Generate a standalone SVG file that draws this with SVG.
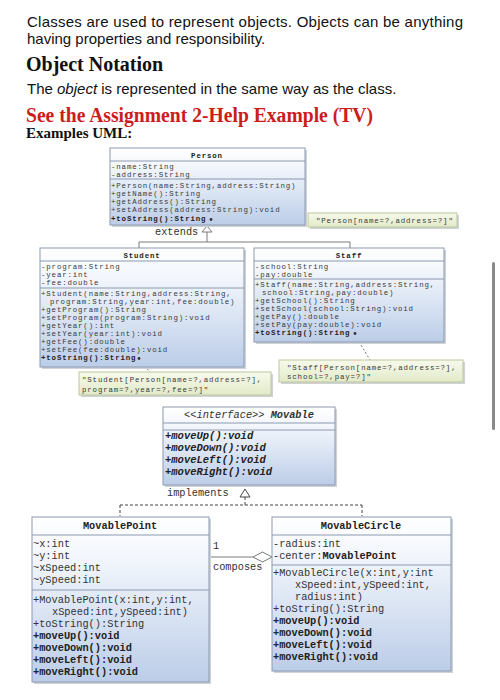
<svg xmlns="http://www.w3.org/2000/svg" width="500" height="700" viewBox="0 0 500 700">
<defs>
<linearGradient id="cls" x1="0" y1="0" x2="0" y2="1">
<stop offset="0" stop-color="#ffffff"/>
<stop offset="0.25" stop-color="#f2f6fc"/>
<stop offset="1" stop-color="#bccde8"/>
</linearGradient>
<linearGradient id="note" x1="0" y1="0" x2="0" y2="1">
<stop offset="0" stop-color="#f7faec"/>
<stop offset="1" stop-color="#e2eac8"/>
</linearGradient>
</defs>
<style>
.body{font-family:"Liberation Sans",Arial,sans-serif;font-size:15px;fill:#111}
.h1{font-family:"Liberation Serif","Times New Roman",serif;font-weight:bold;font-size:20px;fill:#111}
.red{font-family:"Liberation Serif","Times New Roman",serif;font-weight:bold;font-size:20px;fill:#cc1d1d}
.h3{font-family:"Liberation Serif","Times New Roman",serif;font-weight:bold;font-size:15px;fill:#111}
.box{fill:url(#cls);stroke:#8c9ab0;stroke-width:1}
.shadow{fill:#cfd3d8}
.sep{stroke:#8c9ab0;stroke-width:1}
.nbox{fill:url(#note);stroke:#bcc79e;stroke-width:1}
.s{font-family:"Liberation Mono","Courier New",monospace;font-size:7.4px;letter-spacing:0.86px;fill:#3a3a3a}
.sb{font-family:"Liberation Mono","Courier New",monospace;font-size:7.4px;letter-spacing:0.86px;font-weight:bold;fill:#222}
.l{font-family:"Liberation Mono","Courier New",monospace;font-size:10.3px;fill:#333}
.lb{font-family:"Liberation Mono","Courier New",monospace;font-size:10.3px;font-weight:bold;fill:#222}
.bi{font-family:"Liberation Mono","Courier New",monospace;font-size:10.5px;font-weight:bold;font-style:italic;fill:#222}
.ln{stroke:#7a7a7a;stroke-width:1;fill:none}
.dot{stroke:#7a7a7a;stroke-width:1;fill:none;stroke-dasharray:2 2}
.dash{stroke:#444;stroke-width:1;fill:none;stroke-dasharray:3 2}
</style>

<g id="intro">
<text class="body" x="27" y="27" textLength="436" lengthAdjust="spacing">Classes are used to represent objects. Objects can be anything</text>
<text class="body" x="27" y="44">having properties and responsibility.</text>
<text class="h1" x="26" y="71">Object Notation</text>
<text class="body" x="27" y="94">The <tspan font-style="italic">object</tspan> is represented in the same way as the class.</text>
<text class="red" x="26" y="122" textLength="347" lengthAdjust="spacingAndGlyphs">See the Assignment 2-Help Example (TV)</text>
<text class="h3" x="26" y="138">Examples UML:</text>
</g>

<g id="connectors">
<polygon points="207,226 202,232 212,232" fill="#fff" stroke="#7a7a7a"/>
<path class="ln" d="M207,232 V242 M139,242 H350 M139,242 V248 M350,242 V248"/>
<path class="dot" d="M212,220 H308"/>
<path class="dot" d="M139,360 L150,372"/>
<path class="dot" d="M355,335 L370,360"/>
<polygon points="245,489 240,497 250,497" fill="#fff" stroke="#444"/>
<path class="dash" d="M245,497 V505 M120,505 H362 M120,505 V516 M362,505 V516"/>
<path class="ln" d="M209,557 H253"/>
<polygon points="253,557 262.5,552 272,557 262.5,562" fill="#fff" stroke="#7a7a7a"/>
<text class="l" x="213" y="549">1</text>
<text class="l" x="213" y="570" font-size="9.8">composes</text>
<text class="l" x="155" y="235" font-size="9">extends</text>
<text class="l" x="167" y="496">implements</text>
</g>

<g id="Person">
<rect class="shadow" x="112" y="150" width="195" height="77"/>
<rect class="box" x="110" y="148" width="195" height="77"/>
<line class="sep" x1="110" y1="161" x2="305" y2="161"/>
<line class="sep" x1="110" y1="179" x2="305" y2="179"/>
<text class="sb" x="207" y="158" text-anchor="middle">Person</text>
<text class="s" x="111" y="169">-name:String</text>
<text class="s" x="111" y="177">-address:String</text>
<text class="s" x="111" y="188">+Person(name:String,address:String)</text>
<text class="s" x="111" y="196">+getName():String</text>
<text class="s" x="111" y="204">+getAddress():String</text>
<text class="s" x="111" y="212">+setAddress(address:String):void</text>
<text class="sb" x="111" y="221">+toString():String</text>
<circle cx="211" cy="219.5" r="1.4" fill="#333"/>
</g>

<g id="PersonNote">
<rect class="shadow" x="310" y="215" width="149" height="14"/>
<rect class="nbox" x="308" y="213" width="149" height="14"/>
<text class="s" x="316" y="223">"Person[name=?,address=?]"</text>
</g>

<g id="Student">
<rect class="shadow" x="42" y="250" width="204" height="119"/>
<rect class="box" x="40" y="248" width="204" height="119"/>
<line class="sep" x1="40" y1="261" x2="244" y2="261"/>
<line class="sep" x1="40" y1="288" x2="244" y2="288"/>
<text class="sb" x="142" y="258" text-anchor="middle">Student</text>
<text class="s" x="41" y="269">-program:String</text>
<text class="s" x="41" y="277">-year:int</text>
<text class="s" x="41" y="285">-fee:double</text>
<text class="s" x="41" y="296">+Student(name:String,address:String,</text>
<text class="s" x="50" y="304">program:String,year:int,fee:double)</text>
<text class="s" x="41" y="312">+getProgram():String</text>
<text class="s" x="41" y="320">+setProgram(program:String):void</text>
<text class="s" x="41" y="328">+getYear():int</text>
<text class="s" x="41" y="336">+setYear(year:int):void</text>
<text class="s" x="41" y="344">+getFee():double</text>
<text class="s" x="41" y="352">+setFee(fee:double):void</text>
<text class="sb" x="41" y="360">+toString():String</text>
<circle cx="139" cy="358.5" r="1.4" fill="#333"/>
</g>

<g id="StudentNote">
<rect class="shadow" x="81" y="374" width="192" height="23"/>
<rect class="nbox" x="79" y="372" width="192" height="23"/>
<text class="s" x="82" y="382">"Student[Person[name=?,address=?],</text>
<text class="s" x="82" y="392">program=?,year=?,fee=?]"</text>
</g>

<g id="Staff">
<rect class="shadow" x="256" y="250" width="190" height="94"/>
<rect class="box" x="254" y="248" width="190" height="94"/>
<line class="sep" x1="254" y1="261" x2="444" y2="261"/>
<line class="sep" x1="254" y1="279" x2="444" y2="279"/>
<text class="sb" x="349" y="258" text-anchor="middle">Staff</text>
<text class="s" x="255" y="269">-school:String</text>
<text class="s" x="255" y="277">-pay:double</text>
<text class="s" x="255" y="287">+Staff(name:String,address:String,</text>
<text class="s" x="262" y="295">school:String,pay:double)</text>
<text class="s" x="255" y="303">+getSchool():String</text>
<text class="s" x="255" y="311">+setSchool(school:String):void</text>
<text class="s" x="255" y="319">+getPay():double</text>
<text class="s" x="255" y="327">+setPay(pay:double):void</text>
<text class="sb" x="255" y="335">+toString():String</text>
<circle cx="355" cy="333.5" r="1.4" fill="#333"/>
</g>

<g id="StaffNote">
<rect class="shadow" x="281" y="362" width="184" height="22"/>
<rect class="nbox" x="279" y="360" width="184" height="22"/>
<text class="s" x="287" y="370">"Staff[Person[name=?,address=?],</text>
<text class="s" x="287" y="379">school=?,pay=?]"</text>
</g>

<g id="Movable">
<rect class="shadow" x="165" y="409" width="172" height="78"/>
<rect class="box" x="163" y="407" width="172" height="78"/>
<line class="sep" x1="163" y1="423" x2="335" y2="423"/>
<line class="sep" x1="163" y1="430" x2="335" y2="430"/>
<text class="l" x="249" y="418" text-anchor="middle" font-style="italic">&lt;&lt;interface&gt;&gt; <tspan font-weight="bold">Movable</tspan></text>
<text class="bi" x="165" y="439">+moveUp():void</text>
<text class="bi" x="165" y="451">+moveDown():void</text>
<text class="bi" x="165" y="463">+moveLeft():void</text>
<text class="bi" x="165" y="475">+moveRight():void</text>
</g>

<g id="MovablePoint">
<rect class="shadow" x="34" y="519" width="177" height="165"/>
<rect class="box" x="32" y="517" width="177" height="165"/>
<line class="sep" x1="32" y1="535" x2="209" y2="535"/>
<line class="sep" x1="32" y1="590" x2="209" y2="590"/>
<text class="lb" x="120" y="529" text-anchor="middle">MovablePoint</text>
<text class="l" x="33" y="547">~x:int</text>
<text class="l" x="33" y="559">~y:int</text>
<text class="l" x="33" y="571">~xSpeed:int</text>
<text class="l" x="33" y="583">~ySpeed:int</text>
<text class="l" x="33" y="603">+MovablePoint(x:int,y:int,</text>
<text class="l" x="52" y="615">xSpeed:int,ySpeed:int)</text>
<text class="l" x="33" y="627">+toString():String</text>
<text class="lb" x="33" y="639">+moveUp():void</text>
<text class="lb" x="33" y="651">+moveDown():void</text>
<text class="lb" x="33" y="663">+moveLeft():void</text>
<text class="lb" x="33" y="675">+moveRight():void</text>
</g>

<g id="MovableCircle">
<rect class="shadow" x="274" y="519" width="179" height="154"/>
<rect class="box" x="272" y="517" width="179" height="154"/>
<line class="sep" x1="272" y1="535" x2="451" y2="535"/>
<line class="sep" x1="272" y1="565" x2="451" y2="565"/>
<text class="lb" x="361" y="529" text-anchor="middle">MovableCircle</text>
<text class="l" x="273" y="547">-radius:int</text>
<text class="l" x="273" y="559">-center:<tspan font-weight="bold" fill="#222">MovablePoint</tspan></text>
<text class="l" x="273" y="576">+MovableCircle(x:int,y:int</text>
<text class="l" x="295" y="588">xSpeed:int,ySpeed:int,</text>
<text class="l" x="295" y="600">radius:int)</text>
<text class="l" x="273" y="612">+toString():String</text>
<text class="lb" x="273" y="624">+moveUp():void</text>
<text class="lb" x="273" y="636">+moveDown():void</text>
<text class="lb" x="273" y="648">+moveLeft():void</text>
<text class="lb" x="273" y="660">+moveRight():void</text>
</g>

<rect x="492" y="262" width="3" height="168" rx="1.5" fill="#8a8a8a"/>
</svg>
